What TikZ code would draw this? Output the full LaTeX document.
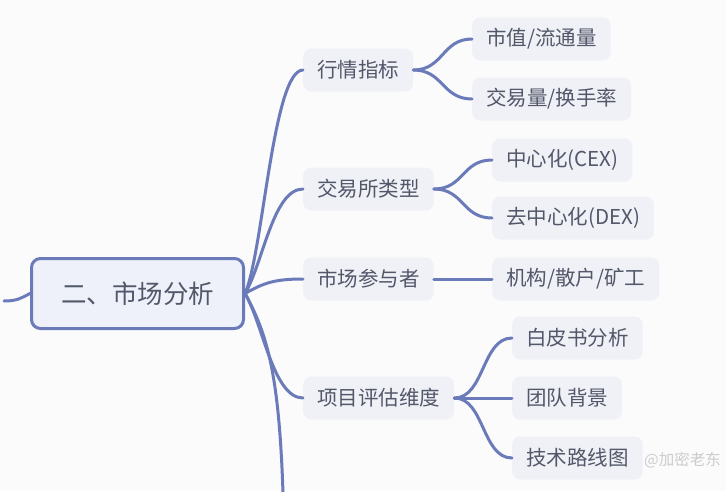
\documentclass[tikz,border=0pt]{standalone}
\usepackage{fontspec}
\setmainfont{Noto Sans CJK SC}
\usepackage{tikz}
\usetikzlibrary{positioning,calc}
\definecolor{LineBlue}{HTML}{6B7BBA}
\definecolor{RootFill}{HTML}{EEF1F9}
\definecolor{TopicFill}{HTML}{F0F1F6}
\definecolor{TextDark}{HTML}{52576A}
\definecolor{PageBg}{HTML}{FBFBFC}

\begin{document}
\begin{tikzpicture}[x=1pt,y=-1pt,
    every node/.style={text=TextDark},
    root/.style={draw=LineBlue,line width=3pt,fill=RootFill,rounded corners=9pt,
                 minimum width=212pt,minimum height=70pt,
                 font=\fontsize{25.5}{30}\selectfont},
    topic/.style={fill=TopicFill,rounded corners=8pt,anchor=west,
                  minimum height=43pt,inner xsep=14pt,
                  font=\fontsize{20.5}{24}\selectfont},
    link/.style={LineBlue,line width=3pt,line cap=round}]
  \fill[PageBg] (0,0) rectangle (726,491);
  \useasboundingbox (0,0) rectangle (726,491);

  \node[root] (market) at (137.5,293.5) {二、市场分析};

  \node[topic] (quote)  at (303,70)  {行情指标};
  \node[topic] (exch)   at (303,189) {交易所类型};
  \node[topic] (player) at (303,279) {市场参与者};
  \node[topic] (proj)   at (303,398) {项目评估维度};

  \node[topic] (cap)    at (472,39)  {市值/流通量};
  \node[topic] (vol)    at (472,99)  {交易量/换手率};
  \node[topic] (cex)    at (492,160) {中心化(CEX)};
  \node[topic] (dex)    at (492,218) {去中心化(DEX)};
  \node[topic] (inst)   at (492,279) {机构/散户/矿工};
  \node[topic] (paper)  at (512,338) {白皮书分析};
  \node[topic] (team)   at (512,398) {团队背景};
  \node[topic] (road)   at (512,458) {技术路线图};

  \coordinate (fromleft) at (4,301);
  \coordinate (below) at (283,493);

  % root links
  \draw[link] (fromleft) .. controls +(14,0) and +(-8,4) .. (market.west);
  \draw[link] (market.east) .. controls +(18,-40) and +(-30,0) .. (quote.west);
  \draw[link] (market.east) .. controls +(18,-30) and +(-30,0) .. (exch.west);
  \draw[link] (market.east) .. controls +(18,-10) and +(-30,0) .. (player.west);
  \draw[link] (market.east) .. controls +(18,30) and +(-30,0) .. (proj.west);
  \draw[link] (market.east) .. controls +(22,40) and +(-4,-120) .. (below);

  % branch links
  \draw[link] (quote.east) .. controls +(30,0) and +(-30,0) .. (cap.west);
  \draw[link] (quote.east) .. controls +(30,0) and +(-30,0) .. (vol.west);
  \draw[link] (exch.east) .. controls +(30,0) and +(-30,0) .. (cex.west);
  \draw[link] (exch.east) .. controls +(30,0) and +(-30,0) .. (dex.west);
  \draw[link] (player.east) -- (inst.west);
  \draw[link] (proj.east) .. controls +(30,0) and +(-30,0) .. (paper.west);
  \draw[link] (proj.east) -- (team.west);
  \draw[link] (proj.east) .. controls +(30,0) and +(-30,0) .. (road.west);

  \node[text=gray!40,font=\fontsize{15.5}{19}\selectfont,anchor=west,inner sep=1pt] (mark) at (643,460) {@加密老东};
\end{tikzpicture}
\end{document}
